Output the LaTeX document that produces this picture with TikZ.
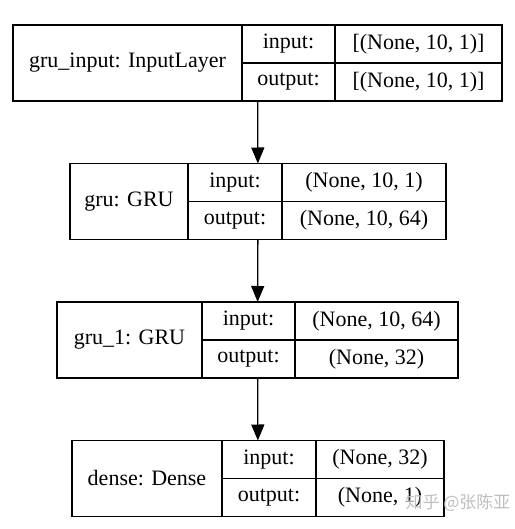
\documentclass[tikz,border=0pt]{standalone}
\usepackage{fontspec}
\setmainfont{Liberation Serif}
\newfontfamily\zhfont{Noto Sans CJK SC}
\usetikzlibrary{arrows.meta,positioning,fit}

\begin{document}
\begin{tikzpicture}[
 x=1pt,y=-1pt,
 node distance=0pt,
 cell/.style={draw,line width=1.3pt,outer sep=0pt,inner sep=0pt,font=\fontsize{22}{26}\selectfont,minimum height=38pt},
 namecell/.style={cell,minimum height=76pt},
 layer/.style={inner sep=0pt,outer sep=0pt},
 arrow/.style={-{Triangle[length=16pt,width=13pt]},line width=1.3pt}
]
\useasboundingbox (0,0) rectangle (514,529);
% gru_input
\node[namecell,minimum width=229pt] (inname) at (127.5,63) {gru\_input: InputLayer};
\node[cell,minimum width=93pt,anchor=north west] (inin) at (inname.north east) {input:};
\node[cell,minimum width=93pt,below=of inin] (inout) {output:};
\node[cell,minimum width=167pt,right=of inin] (ininval) {[(None, 10, 1)]};
\node[cell,minimum width=167pt,right=of inout] (inoutval) {[(None, 10, 1)]};
\node[layer,fit=(inname)(ininval)(inoutval)] (input) {};
% gru
\node[namecell,minimum width=118pt] (gruname) at (129,201.5) {gru: GRU};
\node[cell,minimum width=94pt,anchor=north west] (gruin) at (gruname.north east) {input:};
\node[cell,minimum width=94pt,below=of gruin] (gruout) {output:};
\node[cell,minimum width=164pt,right=of gruin] (gruinval) {(None, 10, 1)};
\node[cell,minimum width=164pt,right=of gruout] (gruoutval) {(None, 10, 64)};
\node[layer,fit=(gruname)(gruinval)(gruoutval)] (gru) {};
% gru_1
\node[namecell,minimum width=145pt] (gruaname) at (129.5,340) {gru\_1: GRU};
\node[cell,minimum width=93pt,anchor=north west] (gruain) at (gruaname.north east) {input:};
\node[cell,minimum width=93pt,below=of gruain] (gruaout) {output:};
\node[cell,minimum width=163pt,right=of gruain] (gruainval) {(None, 10, 64)};
\node[cell,minimum width=163pt,right=of gruaout] (gruaoutval) {(None, 32)};
\node[layer,fit=(gruaname)(gruainval)(gruaoutval)] (grua) {};
% dense
\node[namecell,minimum width=150pt] (densename) at (147,478.5) {dense: Dense};
\node[cell,minimum width=94pt,anchor=north west] (densein) at (densename.north east) {input:};
\node[cell,minimum width=94pt,below=of densein] (denseout) {output:};
\node[cell,minimum width=128pt,right=of densein] (denseinval) {(None, 32)};
\node[cell,minimum width=128pt,right=of denseout] (denseoutval) {(None, 1)};
\node[layer,fit=(densename)(denseinval)(denseoutval)] (dense) {};
\draw[arrow] (input) -- (gru);
\draw[arrow] (gru) -- (grua);
\draw[arrow] (grua) -- (dense);
\node[text=gray!50,font=\zhfont\fontsize{17}{20}\selectfont,anchor=west] (mark) at (402,503) {知乎 @张陈亚};
\end{tikzpicture}
\end{document}
